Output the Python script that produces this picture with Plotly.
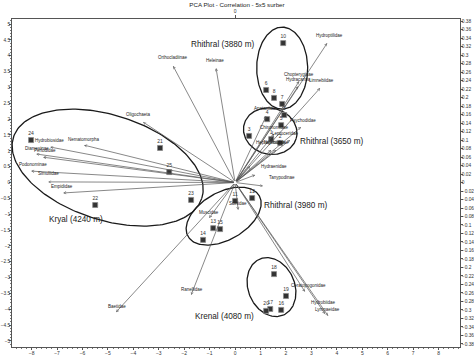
import numpy as np
import plotly.graph_objects as go

# ---------------- data ----------------
# variable vectors (loadings), tip coordinates on the PC axes
var_names = ["Hydroptilidae", "Chopterygidae", "Hydracarina", "Limnebiidae", "Apataniidae",
             "Psychodidae", "Chironomidae", "Leptoceridae", "Heptageniidae", "Nemouridae",
             "Hydraenidae", "Tanypodinae", "", "Scirtidae", "Muscidae",
             "Ranellidae", "Baetidae", "Ceratopogonidae", "Hydrobiidae", "Lymnaeidae",
             "Orthocladiinae", "Heleinae", "Oligochaeta", "Nematomorpha", "Hydrobiosidae",
             "Diamesinae", "Perlodidae", "Podonominae", "Simuliidae", "Empididae"]
var_x = [3.62, 2.52, 2.48, 3.34, 1.22,
         2.59, 1.53, 2.16, 1.42, 1.61,
         0.59, 0.79, 1.10, 0.12, -1.02,
         -1.73, -4.68, 2.75, 3.54, 3.66,
         -2.44, -0.75, -3.62, -5.94, -7.27,
         -7.82, -7.55, -8.02, -7.35, -6.76]
var_y = [4.40, 3.20, 3.04, 2.98, 2.10,
         1.75, 1.53, 1.34, 1.03, 1.03,
         0.52, 0.24, -0.11, -0.87, -1.12,
         -3.55, -4.09, -3.45, -4.15, -4.21,
         3.68, 3.61, 1.91, 1.18, 1.12,
         0.90, 0.80, 0.36, 0.02, -0.33]

# sample scores
sample_ids = ["1", "2", "3", "4", "5", "6", "7", "8", "9", "10",
              "11", "12", "13", "14", "15", "16", "17", "18", "19", "20",
              "21", "22", "23", "24", "25"]
sample_x = [1.42, 1.77, 0.55, 1.26, 1.81, 1.22, 1.85, 1.53, 1.93, 1.89,
            0.00, 0.67, -0.86, -1.26, -0.59, 1.81, 1.38, 1.53, 2.00, 1.22,
            -2.95, -5.50, -1.73, -8.02, -2.59]
sample_y = [1.37, 1.25, 1.47, 2.00, 1.81, 2.92, 2.48, 2.67, 2.13, 4.40,
            -0.58, -0.49, -1.44, -1.81, -1.47, -4.02, -3.99, -2.89, -3.58, -4.05,
            1.09, -0.71, -0.55, 1.34, 0.33]

# groups (site clusters)
group_names = ["Rhithral (3880 m)", "Rhithral (3650 m)", "Rhithral (3980 m)",
               "Kryal (4240 m)", "Krenal (4080 m)"]
group_cx = [1.85, 1.38, -0.45, -5.01, 1.43]
group_cy = [3.61, 1.62, -1.06, 0.47, -3.30]
group_lab_x = [-0.47, 3.81, 2.40, -6.25, -0.43]
group_lab_y = [4.34, 1.31, -0.74, -1.18, -4.24]

x_ticks = list(range(-8, 9))

# ---------------- styling / layout geometry ----------------
W, H = 474, 355
ML, MR, MT, MB = 12, 14, 19, 8
XR = [-8.77, 8.84]
YR = [-5.19, 5.16]
Y2R = [-0.3875, 0.3853]
pxx = (W - ML - MR) / (XR[1] - XR[0])
pxy = (H - MT - MB) / (YR[1] - YR[0])

# ellipse shapes in screen pixels: semi-axes and tilt (deg, positive = right end lower)
ell_a = [41, 27, 41, 99, 30.4]
ell_b = [25.5, 23, 23.8, 52.4, 23.3]
ell_th = [90, 15, -29.7, 18, 67.7]

# label offsets (pixels) for vector labels
lab_dx = [2, 0, 0, 1, 0,
          2, 0, -5, 0, 0,
          9, 12, 0, 0, 0,
          1, 1, 3, -2, -1,
          0, -1, -5, 0, -1,
          1, 2, 2, 0, -1]
lab_dy = [8, 7, 7, 8, 7,
          7, 7, 7, 7, 7,
          0, -3, 7, 7, 6,
          6, 6, 6, 12, 6,
          8, 8, 8, 6, 7,
          6, 7, 7, 8, 6]

FONT = "Liberation Sans, Arial, sans-serif"
fig = go.Figure()

# ellipses
t = np.linspace(0, 2 * np.pi, 200)
for cx, cy, a, b, th in zip(group_cx, group_cy, ell_a, ell_b, ell_th):
    r = np.deg2rad(th)
    sx = a * np.cos(t) * np.cos(r) - b * np.sin(t) * np.sin(r)
    sy = a * np.cos(t) * np.sin(r) + b * np.sin(t) * np.cos(r)
    fig.add_trace(go.Scatter(x=cx + sx / pxx, y=cy - sy / pxy, mode="lines",
                             line=dict(color="#1a1a1a", width=1.3),
                             hoverinfo="skip", showlegend=False))

# sample points
fig.add_trace(go.Scatter(x=sample_x, y=sample_y, mode="markers+text",
                         text=sample_ids, textposition="top center",
                         textfont=dict(size=5, color="#333", family=FONT),
                         marker=dict(symbol="square", size=5, color="#333",
                                     line=dict(color="#888", width=0.8)),
                         showlegend=False, hoverinfo="skip"))

# invisible trace to activate secondary axes
fig.add_trace(go.Scatter(x=[0], y=[0], xaxis="x2", yaxis="y2", mode="markers",
                         marker=dict(opacity=0), showlegend=False, hoverinfo="skip"))

ann = []
for name, vx, vy, dx, dy in zip(var_names, var_x, var_y, lab_dx, lab_dy):
    ann.append(dict(x=vx, y=vy, ax=0, ay=0, xref="x", yref="y", axref="x", ayref="y",
                    showarrow=True, arrowhead=5, arrowsize=0.7, arrowwidth=0.7,
                    arrowcolor="#555", text=""))
    if name:
        ann.append(dict(x=vx, y=vy, xref="x", yref="y", text=name, showarrow=False,
                        xshift=dx, yshift=dy, xanchor="left" if dx >= 9 else "center",
                        font=dict(size=4.5, color="#222", family=FONT)))
for g, gx, gy in zip(group_names, group_lab_x, group_lab_y):
    ann.append(dict(x=gx, y=gy, xref="x", yref="y", text=g, showarrow=False,
                    font=dict(size=8.2, color="#222", family=FONT)))

tickfont = dict(size=5, color="#333", family=FONT)
fig.update_layout(
    width=W, height=H,
    margin=dict(l=ML, r=MR, t=MT, b=MB, autoexpand=False),
    paper_bgcolor="white", plot_bgcolor="white",
    title=dict(text="PCA Plot - Correlation - 5x5 surber", x=0.5, xanchor="center",
               y=1 - 5 / H, yanchor="middle",
               font=dict(size=6.2, color="#222", family=FONT)),
    annotations=ann,
    xaxis=dict(range=XR, tickvals=x_ticks, tickformat="~g", ticks="outside", ticklen=2,
               tickwidth=0.6, tickcolor="#555", showline=True, linecolor="#555",
               linewidth=0.8, showgrid=False, zeroline=False, tickfont=tickfont,
               automargin=False, ticklabelstandoff=-1,
               minor=dict(dtick=0.2, ticks="outside", ticklen=1.5, tickcolor="#777",
                          tickwidth=0.5, showgrid=False)),
    xaxis2=dict(range=XR, overlaying="x", side="top", tickvals=[0], ticktext=["0"],
                ticks="outside", ticklen=3, tickwidth=0.6, tickcolor="#555",
                showline=True, linecolor="#555", linewidth=0.8, showgrid=False,
                zeroline=False, tickfont=tickfont, automargin=False),
    yaxis=dict(range=YR, dtick=0.5, tick0=0, tickformat="~g", ticks="outside", ticklen=2,
               tickwidth=0.6, tickcolor="#555", showline=True, linecolor="#555",
               linewidth=0.8, showgrid=False, zeroline=False,
               tickfont=dict(size=4.8, color="#333", family=FONT),
               automargin=False, ticklabelstandoff=-2,
               minor=dict(dtick=0.1, ticks="outside", ticklen=1.5, tickcolor="#777",
                          tickwidth=0.5, showgrid=False)),
    yaxis2=dict(range=Y2R, overlaying="y", side="right", dtick=0.02, tick0=0,
                tickformat="~g", ticks="outside", ticklen=2, tickwidth=0.6,
                tickcolor="#555", showline=True, linecolor="#555", linewidth=0.8,
                showgrid=False, zeroline=False,
                tickfont=dict(size=4.8, color="#333", family=FONT),
                automargin=False, ticklabelstandoff=-2),
)

fig.write_html("out.html", config={"displayModeBar": False},
               post_script="document.body.style.margin='0';document.body.style.padding='0';")
